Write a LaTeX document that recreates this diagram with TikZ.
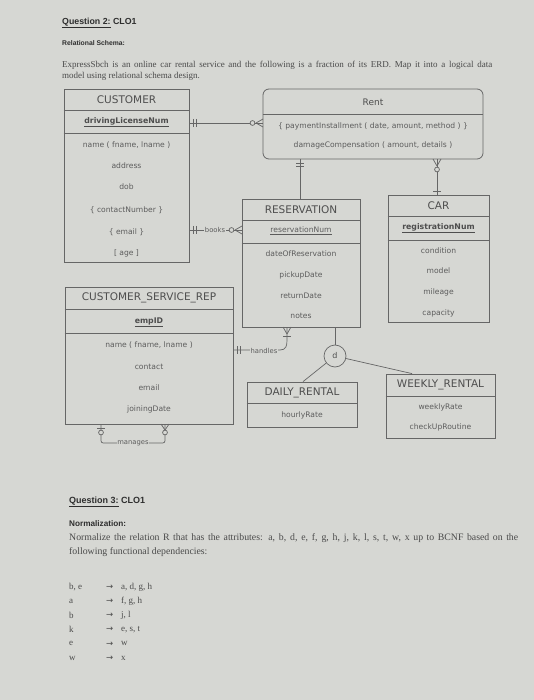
\documentclass[tikz,border=0pt]{standalone}
\usepackage{fontspec}
\setmainfont{Liberation Serif}
\newfontfamily\dvs{DejaVu Sans}
\newfontfamily\lsans{Liberation Sans}
\usetikzlibrary{fit,calc}
\definecolor{bgc}{HTML}{D6D7D3}
\definecolor{linec}{HTML}{666666}
\definecolor{boxtxt}{HTML}{4E4E4E}
\definecolor{attrtxt}{HTML}{5C5C5C}
\definecolor{darktxt}{HTML}{2E2E2E}
\definecolor{seriftxt}{HTML}{4A4A4A}
\begin{document}
\begin{tikzpicture}[x=1pt,y=-1pt,
  ebox/.style={draw=linec, line width=0.8pt, inner sep=0pt},
  hdr/.style={font=\dvs\fontsize{10.5}{12}\selectfont, text=boxtxt, inner sep=0pt},
  attr/.style={font=\dvs\fontsize{7.6}{9}\selectfont, text=attrtxt, inner sep=0pt},
  pkey/.style={font=\dvs\bfseries\fontsize{7.8}{9}\selectfont, text=boxtxt, inner sep=0pt},
  sepline/.style={draw=linec, line width=0.7pt},
  rel/.style={draw=linec, line width=0.7pt},
  rlabel/.style={font=\dvs\fontsize{6.8}{8}\selectfont, text=attrtxt, fill=bgc, inner sep=0.6pt},
  ring/.style={draw=linec, line width=0.7pt, fill=bgc},
  qhead/.style={font=\lsans\bfseries, text=darktxt, anchor=west, inner sep=0pt},
  para/.style={font=\fontsize{9}{10}\selectfont, text=seriftxt, anchor=west, inner sep=0pt},
  fd/.style={font=\fontsize{9}{10}\selectfont, text=seriftxt, anchor=west, inner sep=0pt},
]
\useasboundingbox (0,0) rectangle (534,700);
\fill[bgc] (0,0) rectangle (534,700);

% ---------- header texts ----------
\node[qhead, font=\lsans\bfseries\fontsize{8.8}{10}\selectfont] (q2) at (62,23) {\underline{Question 2:} CLO1};
\node[qhead, font=\lsans\bfseries\fontsize{6.8}{8}\selectfont] (rs) at (62,43) {Relational Schema:};
\node[para] (p1a) at (62,65) {\makebox[430pt][s]{ExpressSbch is an online car rental service and the following is a fraction of its ERD. Map it into a logical data}};
\node[para] (p1b) at (62,76.5) {model using relational schema design.};

% ---------- CUSTOMER ----------
\node[ebox, fit={(64,89)(189,262)}] (cust) {};
\draw[sepline] (cust.west|-0,110) -- (cust.east|-0,110);
\draw[sepline] (cust.west|-0,133) -- (cust.east|-0,133);
\node[hdr] (custh) at (126.5,100) {CUSTOMER};
\node[pkey] (custpk) at (126.5,122) {\underline{drivingLicenseNum}};
\node[attr] (c1) at (126.5,145) {name ( fname, lname )};
\node[attr] (c2) at (126.5,166) {address};
\node[attr] (c3) at (126.5,187) {dob};
\node[attr] (c4) at (126.5,210) {\{ contactNumber \}};
\node[attr] (c5) at (126.5,232) {\{ email \}};
\node[attr] (c6) at (126.5,253) {[ age ]};

% ---------- Rent ----------
\node[ebox, rounded corners=6pt, fit={(263,89)(483,159)}] (rent) {};
\draw[sepline] (rent.west|-0,114) -- (rent.east|-0,114);
\node[hdr, font=\dvs\fontsize{9}{10}\selectfont] (renth) at (373,102) {Rent};
\node[attr] (r1) at (373,126) {\{ paymentInstallment ( date, amount, method ) \}};
\node[attr] (r2) at (373,145) {damageCompensation ( amount, details )};

% ---------- RESERVATION ----------
\node[ebox, fit={(242,199)(360,327)}] (res) {};
\draw[sepline] (res.west|-0,220) -- (res.east|-0,220);
\draw[sepline] (res.west|-0,243) -- (res.east|-0,243);
\node[hdr] (resh) at (301,210) {RESERVATION};
\node[attr] (respk) at (301,231) {\underline{reservationNum}};
\node[attr] (s1) at (301,254) {dateOfReservation};
\node[attr] (s2) at (301,275) {pickupDate};
\node[attr] (s3) at (301,296) {returnDate};
\node[attr] (s4) at (301,316) {notes};

% ---------- CAR ----------
\node[ebox, fit={(388,195)(489,322)}] (car) {};
\draw[sepline] (car.west|-0,216) -- (car.east|-0,216);
\draw[sepline] (car.west|-0,240) -- (car.east|-0,240);
\node[hdr] (carh) at (438.5,206) {CAR};
\node[pkey] (carpk) at (438.5,228) {\underline{registrationNum}};
\node[attr] (a1) at (438.5,251) {condition};
\node[attr] (a2) at (438.5,271) {model};
\node[attr] (a3) at (438.5,292) {mileage};
\node[attr] (a4) at (438.5,313) {capacity};

% ---------- CUSTOMER_SERVICE_REP ----------
\node[ebox, fit={(65,287)(233,424)}] (csr) {};
\draw[sepline] (csr.west|-0,309) -- (csr.east|-0,309);
\draw[sepline] (csr.west|-0,333) -- (csr.east|-0,333);
\node[hdr] (csrh) at (149,298) {CUSTOMER\_SERVICE\_REP};
\node[pkey] (csrpk) at (149,322) {\underline{empID}};
\node[attr] (e1) at (149,345) {name ( fname, lname )};
\node[attr] (e2) at (149,367) {contact};
\node[attr] (e3) at (149,388) {email};
\node[attr] (e4) at (149,409) {joiningDate};

% ---------- DAILY_RENTAL ----------
\node[ebox, fit={(247,382)(357,427)}] (daily) {};
\draw[sepline] (daily.west|-0,403) -- (daily.east|-0,403);
\node[hdr] (dailyh) at (302,393) {DAILY\_RENTAL};
\node[attr] (d1) at (302,415) {hourlyRate};

% ---------- WEEKLY_RENTAL ----------
\node[ebox, fit={(386,374)(495,438)}] (weekly) {};
\draw[sepline] (weekly.west|-0,396) -- (weekly.east|-0,396);
\node[hdr] (weeklyh) at (440.5,385) {WEEKLY\_RENTAL};
\node[attr] (w1) at (440.5,407) {weeklyRate};
\node[attr] (w2) at (440.5,427) {checkUpRoutine};

% ---------- disjoint ----------
\node[circle, draw=linec, line width=0.7pt, minimum size=22pt, inner sep=0pt,
      font=\dvs\fontsize{8}{9}\selectfont, text=boxtxt] (dj) at (335,356) {d};
\draw[rel] (res.south-|dj) -- (dj);
\draw[rel] (dj) -- (daily.north-|303,0);
\draw[rel] (dj) -- (weekly.north-|412,0);

% ---------- CUSTOMER -- Rent ----------
\draw[rel] (cust.east|-0,123) -- (rent.west|-0,123);
\draw[rel] (193,119) -- (193,127) (196,119) -- (196,127);
\draw[rel] (256,123) -- (263,119) (256,123) -- (263,127);
\draw[ring] (252.5,123) circle (2.4);

% ---------- books ----------
\draw[rel] (cust.east|-0,230) -- (res.west|-0,230);
\draw[rel] (193,226) -- (193,234) (196,226) -- (196,234);
\draw[rel] (235,230) -- (242,226) (235,230) -- (242,234);
\draw[ring] (231.5,230) circle (2.4);
\node[rlabel] (books) at (215,230) {books};

% ---------- Rent -- RESERVATION ----------
\draw[rel] (rent.south-|300,0) -- (res.north-|300,0);
\draw[rel] (296,163) -- (304,163) (296,166) -- (304,166);

% ---------- Rent -- CAR ----------
\draw[rel] (rent.south-|437,0) -- (car.north-|437,0);
\draw[rel] (437,166) -- (433,159) (437,166) -- (441,159);
\draw[ring] (437,169.5) circle (2.4);
\draw[rel] (433,191) -- (441,191);

% ---------- handles ----------
\coordinate (hA) at (csr.east|-0,350);
\coordinate (hB) at (res.south-|287,0);
\draw[rel] (hA) -- (280,350) .. controls (286,350) and (287,346) .. (287,340) -- (hB);
\draw[rel] (237,346) -- (237,354) (240,346) -- (240,354);
\draw[rel] (287,334) -- (283,327) (287,334) -- (291,327);
\draw[rel] (283,336.5) -- (291,336.5);
\node[rlabel] (handles) at (264,350.5) {handles};

% ---------- manages ----------
\coordinate (mA) at (csr.south-|101,0);
\coordinate (mB) at (csr.south-|165,0);
\draw[rel] (mA) -- (101,438) .. controls (101,443) .. (106,443) -- (160,443) .. controls (165,443) .. (165,438) -- (mB);
\draw[rel] (97,428) -- (105,428);
\draw[ring] (101,432.5) circle (2.4);
\draw[rel] (165,430) -- (161,424) (165,430) -- (169,424);
\draw[ring] (165,432.5) circle (2.4);
\node[rlabel] (manages) at (133,443) {manages};

% ---------- Question 3 ----------
\node[qhead, font=\lsans\bfseries\fontsize{9}{10}\selectfont] (q3) at (69,502) {\underline{Question 3:} CLO1};
\node[qhead, font=\lsans\bfseries\fontsize{8.2}{10}\selectfont] (nz) at (69,524) {Normalization:};
\node[para, font=\fontsize{9.8}{11}\selectfont] (p2a) at (69,538) {\makebox[449pt][s]{Normalize the relation R that has the attributes: a, b, d, e, f, g, h, j, k, l, s, t, w, x up to BCNF based on the}};
\node[para, font=\fontsize{9.8}{11}\selectfont] (p2b) at (69,552) {following functional dependencies:};

% ---------- functional dependencies ----------
\foreach \l/\r [count=\i from 0] in {{b, e}/{a, d, g, h}, a/{f, g, h}, b/{j, l}, k/{e, s, t}, e/w, w/x}{
  \node[fd] (fl\i) at (69,587+14.2*\i) {\l};
  \node[fd, font=\dvs\fontsize{8.5}{9}\selectfont] (fa\i) at (106,587+14.2*\i) {→};
  \node[fd] (fr\i) at (121,587+14.2*\i) {\r};
}
\end{tikzpicture}
\end{document}
